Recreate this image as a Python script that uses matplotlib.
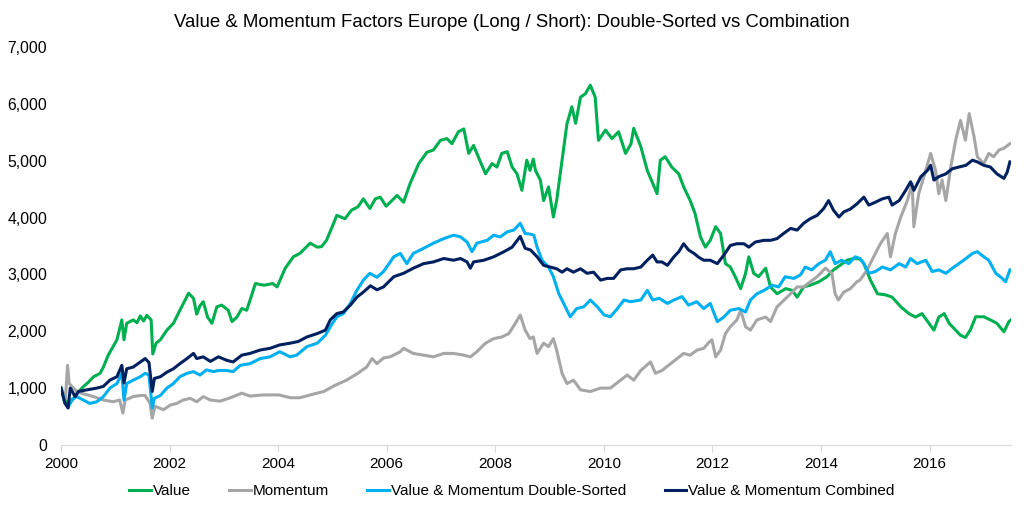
import matplotlib
matplotlib.use("Agg")
import matplotlib.pyplot as plt
from matplotlib.ticker import FuncFormatter

plt.rcParams['font.family'] = ['Liberation Sans', 'DejaVu Sans']

# Value
value_x = [2000.00, 2000.06, 2000.13, 2000.17, 2000.29, 2000.41, 2000.50, 2000.60, 2000.72, 2000.78,
           2000.87, 2000.96, 2001.03, 2001.12, 2001.16, 2001.21, 2001.33, 2001.40, 2001.46, 2001.52,
           2001.58, 2001.66, 2001.69, 2001.75, 2001.83, 2001.95, 2002.07, 2002.19, 2002.35, 2002.44,
           2002.50, 2002.56, 2002.62, 2002.70, 2002.78, 2002.87, 2002.96, 2003.08, 2003.15, 2003.24,
           2003.33, 2003.42, 2003.50, 2003.58, 2003.74, 2003.90, 2003.98, 2004.13, 2004.28, 2004.40,
           2004.59, 2004.72, 2004.80, 2004.89, 2005.00, 2005.08, 2005.23, 2005.35, 2005.47, 2005.57,
           2005.69, 2005.79, 2005.88, 2005.99, 2006.19, 2006.31, 2006.43, 2006.59, 2006.74, 2006.86,
           2006.99, 2007.11, 2007.20, 2007.32, 2007.42, 2007.51, 2007.60, 2007.70, 2007.82, 2007.94,
           2008.03, 2008.12, 2008.22, 2008.31, 2008.40, 2008.49, 2008.58, 2008.64, 2008.70, 2008.74,
           2008.83, 2008.89, 2008.98, 2009.07, 2009.13, 2009.23, 2009.32, 2009.41, 2009.48, 2009.57,
           2009.66, 2009.75, 2009.84, 2009.90, 2010.03, 2010.15, 2010.27, 2010.40, 2010.50, 2010.55,
           2010.68, 2010.80, 2010.90, 2010.98, 2011.04, 2011.13, 2011.25, 2011.38, 2011.47, 2011.59,
           2011.68, 2011.78, 2011.87, 2011.96, 2012.06, 2012.15, 2012.24, 2012.33, 2012.42, 2012.52,
           2012.61, 2012.67, 2012.76, 2012.85, 2012.98, 2013.07, 2013.19, 2013.35, 2013.47, 2013.56,
           2013.68, 2013.80, 2013.96, 2014.11, 2014.23, 2014.35, 2014.48, 2014.60, 2014.72, 2014.79,
           2014.91, 2015.04, 2015.19, 2015.31, 2015.47, 2015.62, 2015.74, 2015.86, 2015.99, 2016.08,
           2016.17, 2016.27, 2016.36, 2016.45, 2016.57, 2016.66, 2016.75, 2016.85, 2017.00, 2017.12,
           2017.24, 2017.37, 2017.46, 2017.50]
value_y = [1000, 850, 700, 740, 900, 1025, 1100, 1200, 1260, 1370,
           1580, 1730, 1850, 2200, 1850, 2140, 2200, 2150, 2270, 2180,
           2280, 2200, 1600, 1790, 1850, 2020, 2140, 2370, 2670, 2580,
           2300, 2450, 2520, 2250, 2140, 2430, 2460, 2370, 2170, 2250,
           2400, 2370, 2600, 2840, 2810, 2840, 2780, 3110, 3310, 3370,
           3550, 3480, 3490, 3600, 3850, 4040, 3980, 4130, 4190, 4330,
           4160, 4330, 4360, 4200, 4390, 4270, 4600, 4950, 5150, 5190,
           5360, 5390, 5300, 5510, 5560, 5130, 5270, 5040, 4770, 4950,
           4890, 5130, 5160, 4890, 4770, 4480, 5010, 4830, 5030, 4830,
           4660, 4300, 4540, 4010, 4300, 5010, 5650, 5950, 5660, 6120,
           6180, 6330, 6120, 5360, 5540, 5390, 5510, 5130, 5300, 5570,
           5250, 4830, 4600, 4420, 5010, 5070, 4890, 4770, 4540, 4300,
           4070, 3660, 3480, 3600, 3840, 3720, 3190, 3130, 2960, 2750,
           3020, 3310, 3020, 2960, 3110, 2780, 2660, 2750, 2720, 2600,
           2780, 2810, 2870, 2960, 3080, 3160, 3250, 3280, 3270, 3190,
           2900, 2660, 2640, 2600, 2430, 2310, 2250, 2310, 2140, 2020,
           2250, 2310, 2140, 2050, 1930, 1890, 2020, 2255, 2255, 2200,
           2140, 1990, 2170, 2200]

# Momentum
mom_x = [2000.00, 2000.08, 2000.12, 2000.15, 2000.29, 2000.41, 2000.60, 2000.78, 2000.96, 2001.08,
         2001.14, 2001.18, 2001.33, 2001.46, 2001.55, 2001.64, 2001.68, 2001.73, 2001.89, 2002.01,
         2002.13, 2002.25, 2002.38, 2002.50, 2002.62, 2002.75, 2002.93, 2003.12, 2003.33, 2003.48,
         2003.72, 2004.01, 2004.23, 2004.40, 2004.59, 2004.84, 2005.05, 2005.26, 2005.45, 2005.63,
         2005.73, 2005.82, 2005.94, 2006.06, 2006.25, 2006.31, 2006.49, 2006.68, 2006.86, 2007.05,
         2007.23, 2007.42, 2007.54, 2007.66, 2007.82, 2007.97, 2008.12, 2008.25, 2008.37, 2008.46,
         2008.55, 2008.64, 2008.70, 2008.77, 2008.89, 2008.98, 2009.07, 2009.13, 2009.23, 2009.32,
         2009.44, 2009.57, 2009.75, 2009.94, 2010.12, 2010.31, 2010.43, 2010.55, 2010.68, 2010.86,
         2010.95, 2011.07, 2011.23, 2011.35, 2011.47, 2011.59, 2011.72, 2011.84, 2011.93, 2011.99,
         2012.06, 2012.15, 2012.24, 2012.33, 2012.45, 2012.52, 2012.61, 2012.70, 2012.82, 2012.98,
         2013.07, 2013.19, 2013.32, 2013.44, 2013.56, 2013.68, 2013.80, 2013.93, 2014.08, 2014.20,
         2014.26, 2014.32, 2014.42, 2014.54, 2014.66, 2014.72, 2014.85, 2014.97, 2015.10, 2015.22,
         2015.28, 2015.37, 2015.47, 2015.59, 2015.68, 2015.71, 2015.80, 2015.93, 2016.02, 2016.11,
         2016.17, 2016.23, 2016.30, 2016.39, 2016.48, 2016.57, 2016.66, 2016.73, 2016.82, 2016.88,
         2017.00, 2017.09, 2017.18, 2017.28, 2017.37, 2017.48]
mom_y = [1000, 800, 1400, 1080, 940, 900, 850, 790, 760, 790,
         560, 790, 850, 870, 870, 730, 470, 680, 620, 700,
         730, 790, 820, 760, 850, 790, 770, 830, 910, 860,
         880, 880, 830, 830, 880, 940, 1050, 1140, 1250, 1370,
         1520, 1430, 1530, 1550, 1640, 1700, 1610, 1580, 1550, 1610,
         1610, 1580, 1550, 1640, 1790, 1870, 1900, 1960, 2140, 2285,
         2020, 1870, 1900, 1610, 1790, 1730, 1870, 1670, 1260, 1080,
         1140, 970, 940, 1000, 1000, 1140, 1230, 1140, 1310, 1460,
         1260, 1310, 1430, 1520, 1610, 1580, 1670, 1700, 1800, 1850,
         1550, 1670, 1960, 2080, 2200, 2370, 2080, 2020, 2200, 2250,
         2170, 2430, 2550, 2660, 2780, 2780, 2870, 2960, 3110, 3020,
         2660, 2550, 2690, 2750, 2870, 2900, 3080, 3310, 3550, 3720,
         3310, 3720, 4010, 4300, 4600, 3840, 4420, 4830, 5130, 4830,
         4420, 4660, 4300, 4890, 5360, 5710, 5360, 5830, 5420, 5070,
         4950, 5130, 5070, 5190, 5220, 5300]

# Value & Momentum Double-Sorted
ds_x = [2000.00, 2000.07, 2000.13, 2000.20, 2000.29, 2000.41, 2000.53, 2000.66, 2000.78, 2000.90,
        2001.03, 2001.12, 2001.16, 2001.21, 2001.33, 2001.46, 2001.55, 2001.62, 2001.68, 2001.72,
        2001.83, 2001.95, 2002.07, 2002.19, 2002.32, 2002.44, 2002.56, 2002.68, 2002.81, 2002.90,
        2003.05, 2003.17, 2003.30, 2003.48, 2003.67, 2003.85, 2004.03, 2004.22, 2004.34, 2004.53,
        2004.72, 2004.87, 2004.96, 2005.08, 2005.20, 2005.33, 2005.45, 2005.57, 2005.69, 2005.82,
        2005.94, 2006.13, 2006.25, 2006.37, 2006.49, 2006.68, 2006.86, 2007.05, 2007.23, 2007.36,
        2007.48, 2007.57, 2007.66, 2007.85, 2007.97, 2008.09, 2008.22, 2008.34, 2008.46, 2008.55,
        2008.64, 2008.71, 2008.77, 2008.86, 2008.98, 2009.07, 2009.17, 2009.26, 2009.38, 2009.50,
        2009.63, 2009.75, 2009.88, 2010.00, 2010.12, 2010.25, 2010.37, 2010.49, 2010.68, 2010.80,
        2010.90, 2011.02, 2011.17, 2011.29, 2011.44, 2011.56, 2011.71, 2011.84, 2011.96, 2012.09,
        2012.21, 2012.33, 2012.49, 2012.61, 2012.70, 2012.82, 2012.95, 2013.10, 2013.22, 2013.34,
        2013.50, 2013.62, 2013.71, 2013.83, 2013.96, 2014.08, 2014.17, 2014.26, 2014.38, 2014.51,
        2014.63, 2014.72, 2014.79, 2014.88, 2015.00, 2015.13, 2015.28, 2015.44, 2015.56, 2015.65,
        2015.77, 2015.93, 2016.05, 2016.17, 2016.30, 2016.42, 2016.54, 2016.67, 2016.79, 2016.88,
        2017.00, 2017.09, 2017.22, 2017.34, 2017.40, 2017.48]
ds_y = [1000, 740, 660, 800, 850, 790, 730, 760, 850, 1000,
        1080, 1260, 790, 1080, 1140, 1200, 1260, 1230, 650, 820,
        870, 1000, 1080, 1200, 1260, 1290, 1230, 1320, 1290, 1310,
        1310, 1290, 1400, 1430, 1520, 1550, 1640, 1550, 1580, 1730,
        1790, 1930, 2080, 2255, 2310, 2490, 2720, 2900, 3020, 2950,
        3050, 3310, 3370, 3190, 3370, 3460, 3550, 3630, 3690, 3660,
        3570, 3400, 3550, 3600, 3690, 3660, 3750, 3780, 3900, 3720,
        3710, 3690, 3480, 3250, 3130, 2960, 2660, 2490, 2255, 2400,
        2430, 2550, 2430, 2290, 2255, 2400, 2550, 2520, 2550, 2720,
        2550, 2580, 2490, 2550, 2610, 2460, 2520, 2400, 2490, 2170,
        2250, 2370, 2400, 2340, 2550, 2660, 2720, 2810, 2780, 2960,
        2930, 2990, 3130, 3080, 3190, 3250, 3400, 3190, 3250, 3190,
        3310, 3280, 3190, 3020, 3050, 3130, 3080, 3190, 3130, 3280,
        3190, 3250, 3050, 3080, 3020, 3110, 3190, 3280, 3370, 3400,
        3310, 3250, 3020, 2930, 2870, 3080]

# Value & Momentum Combined
comb_x = [2000.00, 2000.07, 2000.13, 2000.17, 2000.26, 2000.32, 2000.48, 2000.66, 2000.78, 2000.90,
          2001.03, 2001.12, 2001.16, 2001.21, 2001.33, 2001.46, 2001.55, 2001.62, 2001.68, 2001.72,
          2001.83, 2001.95, 2002.07, 2002.19, 2002.32, 2002.44, 2002.50, 2002.62, 2002.75, 2002.90,
          2003.05, 2003.17, 2003.33, 2003.48, 2003.67, 2003.85, 2004.03, 2004.22, 2004.37, 2004.53,
          2004.72, 2004.87, 2004.96, 2005.08, 2005.20, 2005.33, 2005.45, 2005.57, 2005.70, 2005.82,
          2005.94, 2006.13, 2006.31, 2006.49, 2006.68, 2006.86, 2007.05, 2007.23, 2007.36, 2007.48,
          2007.54, 2007.60, 2007.79, 2007.97, 2008.16, 2008.31, 2008.46, 2008.55, 2008.65, 2008.77,
          2008.89, 2009.01, 2009.13, 2009.23, 2009.32, 2009.44, 2009.57, 2009.69, 2009.81, 2009.94,
          2010.06, 2010.18, 2010.31, 2010.43, 2010.55, 2010.68, 2010.80, 2010.90, 2010.98, 2011.07,
          2011.17, 2011.29, 2011.38, 2011.47, 2011.56, 2011.66, 2011.75, 2011.84, 2011.96, 2012.09,
          2012.21, 2012.33, 2012.45, 2012.58, 2012.67, 2012.79, 2012.95, 2013.07, 2013.19, 2013.31,
          2013.44, 2013.56, 2013.68, 2013.80, 2013.93, 2014.05, 2014.14, 2014.23, 2014.33, 2014.42,
          2014.54, 2014.66, 2014.79, 2014.88, 2015.00, 2015.13, 2015.25, 2015.31, 2015.44, 2015.56,
          2015.65, 2015.71, 2015.84, 2015.96, 2016.02, 2016.08, 2016.17, 2016.30, 2016.42, 2016.54,
          2016.67, 2016.79, 2016.88, 2017.00, 2017.12, 2017.24, 2017.37, 2017.43, 2017.48]
comb_y = [1000, 740, 650, 1000, 850, 940, 970, 1000, 1030, 1140,
          1200, 1400, 1090, 1340, 1370, 1460, 1520, 1450, 940, 1170,
          1200, 1280, 1340, 1430, 1520, 1610, 1520, 1550, 1470, 1550,
          1490, 1460, 1580, 1610, 1670, 1700, 1760, 1790, 1820, 1900,
          1960, 2020, 2200, 2310, 2340, 2460, 2600, 2690, 2800, 2730,
          2780, 2960, 3020, 3110, 3190, 3220, 3280, 3250, 3280, 3220,
          3110, 3220, 3250, 3310, 3400, 3480, 3670, 3460, 3430, 3310,
          3160, 3130, 3100, 3040, 3100, 3040, 3100, 3020, 3040, 2900,
          2930, 2930, 3080, 3100, 3100, 3130, 3250, 3340, 3220, 3220,
          3160, 3310, 3400, 3540, 3430, 3370, 3300, 3250, 3250, 3190,
          3340, 3510, 3540, 3540, 3480, 3570, 3600, 3600, 3630, 3720,
          3810, 3780, 3900, 3980, 4040, 4160, 4300, 4130, 4010, 4100,
          4150, 4240, 4360, 4220, 4270, 4330, 4360, 4220, 4300, 4480,
          4630, 4480, 4720, 4830, 4920, 4660, 4720, 4770, 4860, 4890,
          4920, 5010, 4980, 4920, 4890, 4770, 4690, 4800, 4980]

year_ticks = [2000, 2002, 2004, 2006, 2008, 2010, 2012, 2014, 2016]

fig = plt.figure(figsize=(10.24, 5.12), dpi=100)
ax = fig.add_axes([0.0596, 0.131, 0.9277, 0.777])

ax.plot(value_x, value_y, color='#00B050', lw=2.2, label='Value')
ax.plot(mom_x, mom_y, color='#A6A6A6', lw=2.2, label='Momentum')
ax.plot(ds_x, ds_y, color='#00B0F0', lw=2.2, label='Value & Momentum Double-Sorted')
ax.plot(comb_x, comb_y, color='#002060', lw=2.2, label='Value & Momentum Combined')

ax.set_xlim(2000, 2017.5)
ax.set_ylim(0, 7000)
ax.set_xticks(year_ticks)
ax.set_xticklabels([str(y) for y in year_ticks])
ax.set_yticks(range(0, 7001, 1000))
ax.yaxis.set_major_formatter(FuncFormatter(lambda v, p: f"{int(v):,}"))

for s in ['top', 'right', 'left']:
    ax.spines[s].set_visible(False)
ax.spines['bottom'].set_color('#D9D9D9')
ax.tick_params(axis='y', length=0, labelsize=11.3, pad=10, colors='#000000')
ax.tick_params(axis='x', length=5, color='#D9D9D9', labelsize=11, pad=4)

# title centred on the figure, not the axes
fig.text(0.5, 1 - 27 / 512,
         'Value & Momentum Factors Europe (Long / Short): Double-Sorted vs Combination',
         fontsize=13.4, ha='center', va='baseline')

fig.legend(loc='lower center', bbox_to_anchor=(0.5, 0.0), ncol=4, frameon=False,
           fontsize=11, handlelength=1.4, handletextpad=0.15, columnspacing=2.5)

fig.savefig('out.png', dpi=100)
